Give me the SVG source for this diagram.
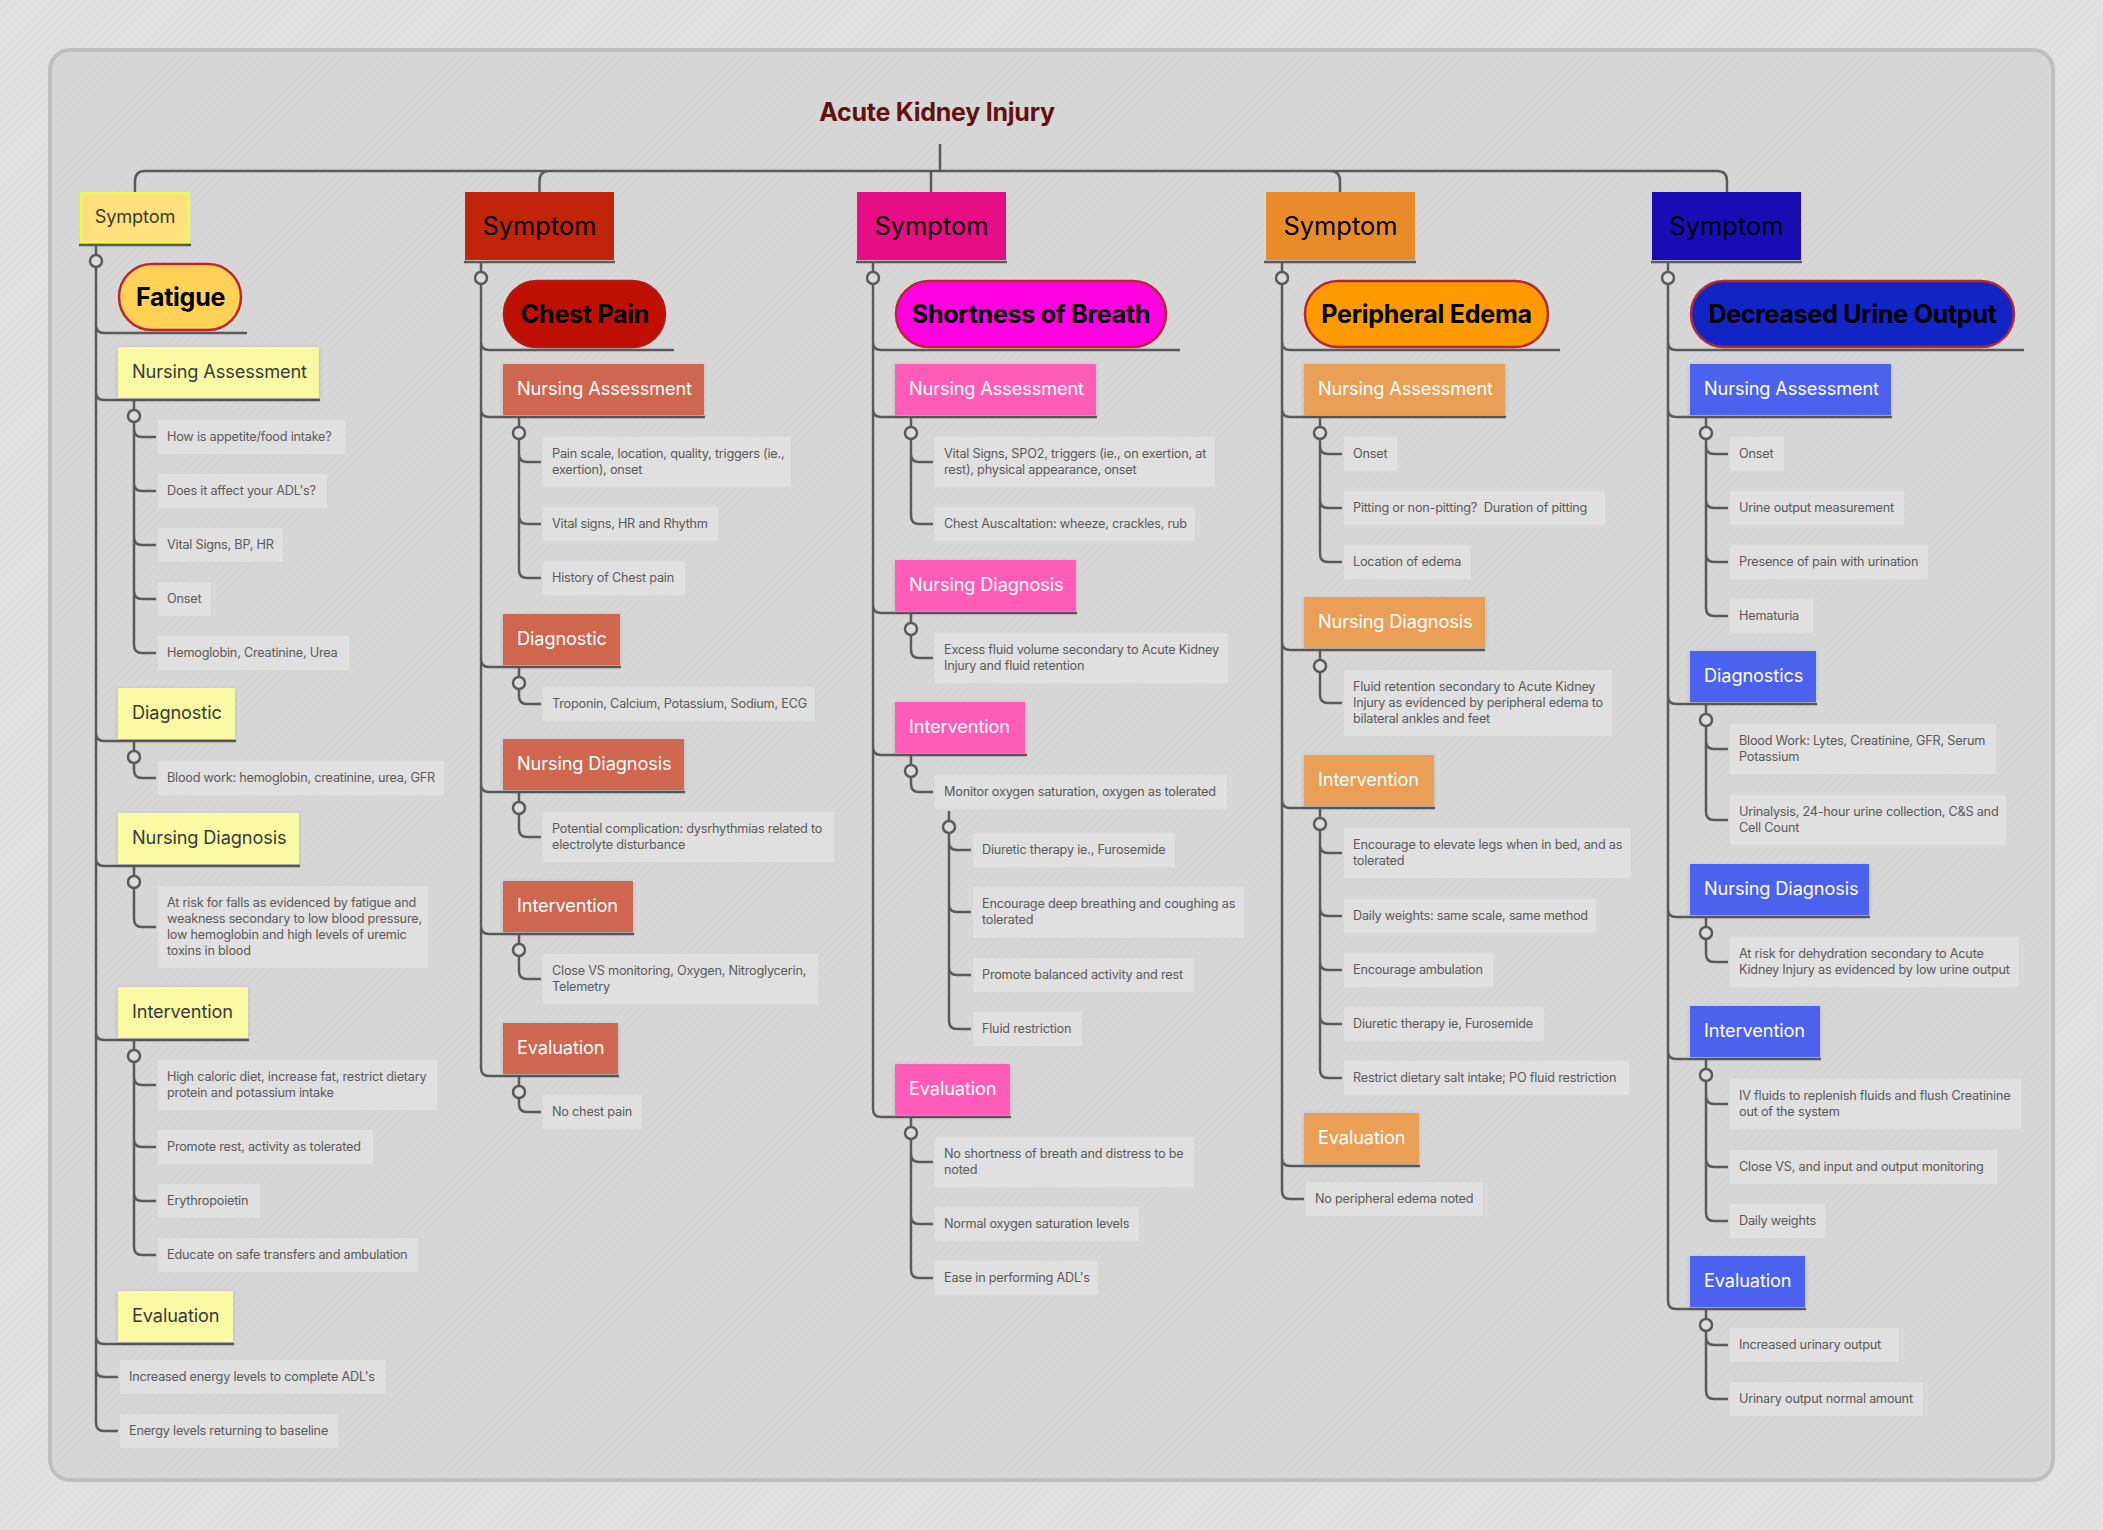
<svg xmlns="http://www.w3.org/2000/svg" width="2103" height="1530" viewBox="0 0 2103 1530">
<style>
text{font-family:Inter,"Liberation Sans",sans-serif}
.l{fill:none;stroke:#5a5a5a;stroke-width:2.5}
.c{fill:#dcdcdc;stroke:#5a5a5a;stroke-width:2.5}
.b{fill:#e0e0e0}
.t{font-size:12.7px;fill:#595959;letter-spacing:-.22px;white-space:pre}
.n{font-size:18.2px;letter-spacing:-.12px}
.y,.r,.p,.o,.u{filter:drop-shadow(0 1px 2px rgba(0,0,0,.14))}
.y{fill:#f9f9a3}.yt{fill:#3a3a3a}
.r{fill:#cf6650}.p{fill:#ff5cb8}.o{fill:#e99f56}.u{fill:#4a62ee}.w{fill:#fff}
.s{font-size:25.4px;text-anchor:middle;fill:#000}
.h{font-size:25px;font-weight:700;text-anchor:middle;fill:#000;letter-spacing:-.25px}
.pill{stroke:#b8272f;stroke-width:2.5}
</style>
<defs><pattern id="bg" width="6" height="6" patternUnits="userSpaceOnUse" patternTransform="rotate(45)"><rect width="6" height="6" fill="#e2e2e2"/><rect width="3" height="6" fill="#e0e0e0"/></pattern>
<pattern id="fg" width="6" height="6" patternUnits="userSpaceOnUse" patternTransform="rotate(45)"><rect width="6" height="6" fill="#d7d7d7"/><rect width="3" height="6" fill="#d5d5d5"/></pattern></defs>
<rect width="2103" height="1530" fill="url(#bg)"/>
<rect id="frame" x="50" y="50" width="2003" height="1430" rx="20" fill="url(#fg)" stroke="#bfbfbf" stroke-width="4"/>
<g id="connectors">
<path class="l" d="M940 144V171M135 192V181Q135 171 145 171H1717Q1727 171 1727 181V192M539.5 192V181Q539.5 171 549.5 171M931 171V192M1340 192V181Q1340 171 1330 171"/>
<!-- col1 -->
<path class="l" d="M79 245H191M96 245V1423Q96 1431 104 1431H118M96 325Q96 333 104 333H247M96 392Q96 400 104 400H320M96 733Q96 741 104 741H236M96 858Q96 866 104 866H300M96 1032Q96 1040 104 1040H249M96 1336Q96 1344 104 1344H234M96 1369Q96 1377 104 1377H118"/>
<path class="l" d="M134 400V645Q134 653 142 653H156M134 429Q134 437 142 437H156M134 483Q134 491 142 491H156M134 537Q134 545 142 545H156M134 591Q134 599 142 599H156"/>
<path class="l" d="M134 741V770Q134 778 142 778H156"/>
<path class="l" d="M134 866V919Q134 927 142 927H156"/>
<path class="l" d="M134 1040V1247Q134 1255 142 1255H156M134 1077Q134 1085 142 1085H156M134 1139Q134 1147 142 1147H156M134 1193Q134 1201 142 1201H156"/>
<!-- col2 -->
<path class="l" d="M464 262H615M481 262V1068Q481 1076 489 1076H619M481 342Q481 350 489 350H674M481 409Q481 417 489 417H705M481 659Q481 667 489 667H621M481 784Q481 792 489 792H685M481 926Q481 934 489 934H634"/>
<path class="l" d="M519 417V570Q519 578 527 578H541M519 454Q519 462 527 462H541M519 516Q519 524 527 524H541"/>
<path class="l" d="M519 667V696Q519 704 527 704H541"/>
<path class="l" d="M519 792V829Q519 837 527 837H541"/>
<path class="l" d="M519 934V971Q519 979 527 979H541"/>
<path class="l" d="M519 1076V1104Q519 1112 527 1112H541"/>
<!-- col3 -->
<path class="l" d="M856 262H1007M873 262V1109Q873 1117 881 1117H1011M873 342Q873 350 881 350H1180M873 409Q873 417 881 417H1097M873 605Q873 613 881 613H1077M873 747Q873 755 881 755H1027"/>
<path class="l" d="M911 417V516Q911 524 919 524H933M911 454Q911 462 919 462H933"/>
<path class="l" d="M911 613V650Q911 658 919 658H933"/>
<path class="l" d="M911 755V784Q911 792 919 792H933"/>
<path class="l" d="M949 811V1021Q949 1029 957 1029H971M949 842Q949 850 957 850H971M949 904Q949 912 957 912H971M949 967Q949 975 957 975H971"/>
<path class="l" d="M911 1117V1270Q911 1278 919 1278H933M911 1154Q911 1162 919 1162H933M911 1216Q911 1224 919 1224H933"/>
<!-- col4 -->
<path class="l" d="M1264 262H1416M1282 262V1191Q1282 1199 1290 1199H1304M1282 342Q1282 350 1290 350H1560M1282 409Q1282 417 1290 417H1506M1282 642Q1282 650 1290 650H1485M1282 800Q1282 808 1290 808H1435M1282 1158Q1282 1166 1290 1166H1420"/>
<path class="l" d="M1320 417V554Q1320 562 1328 562H1342M1320 446Q1320 454 1328 454H1342M1320 500Q1320 508 1328 508H1342"/>
<path class="l" d="M1320 650V695Q1320 703 1328 703H1342"/>
<path class="l" d="M1320 808V1070Q1320 1078 1328 1078H1342M1320 845Q1320 853 1328 853H1342M1320 908Q1320 916 1328 916H1342M1320 962Q1320 970 1328 970H1342M1320 1016Q1320 1024 1328 1024H1342"/>
<!-- col5 -->
<path class="l" d="M1651 262H1802M1668 262V1301Q1668 1309 1676 1309H1806M1668 342Q1668 350 1676 350H2024M1668 409Q1668 417 1676 417H1892M1668 696Q1668 704 1676 704H1817M1668 909Q1668 917 1676 917H1870M1668 1051Q1668 1059 1676 1059H1821"/>
<path class="l" d="M1706 417V608Q1706 616 1714 616H1728M1706 446Q1706 454 1714 454H1728M1706 500Q1706 508 1714 508H1728M1706 554Q1706 562 1714 562H1728"/>
<path class="l" d="M1706 704V812Q1706 820 1714 820H1728M1706 741Q1706 749 1714 749H1728"/>
<path class="l" d="M1706 917V954Q1706 962 1714 962H1728"/>
<path class="l" d="M1706 1059V1213Q1706 1221 1714 1221H1728M1706 1096Q1706 1104 1714 1104H1728M1706 1159Q1706 1167 1714 1167H1728"/>
<path class="l" d="M1706 1309V1391Q1706 1399 1714 1399H1728M1706 1337Q1706 1345 1714 1345H1728"/>
<g>
<circle class="c" cx="96" cy="261" r="6"/><circle class="c" cx="134" cy="416" r="6"/><circle class="c" cx="134" cy="757" r="6"/><circle class="c" cx="134" cy="882" r="6"/><circle class="c" cx="134" cy="1056" r="6"/>
<circle class="c" cx="481" cy="278" r="6"/><circle class="c" cx="519" cy="433" r="6"/><circle class="c" cx="519" cy="683" r="6"/><circle class="c" cx="519" cy="808" r="6"/><circle class="c" cx="519" cy="950" r="6"/><circle class="c" cx="519" cy="1092" r="6"/>
<circle class="c" cx="873" cy="278" r="6"/><circle class="c" cx="911" cy="433" r="6"/><circle class="c" cx="911" cy="629" r="6"/><circle class="c" cx="911" cy="771" r="6"/><circle class="c" cx="949" cy="827" r="6"/><circle class="c" cx="911" cy="1133" r="6"/>
<circle class="c" cx="1282" cy="278" r="6"/><circle class="c" cx="1320" cy="433" r="6"/><circle class="c" cx="1320" cy="666" r="6"/><circle class="c" cx="1320" cy="824" r="6"/>
<circle class="c" cx="1668" cy="278" r="6"/><circle class="c" cx="1706" cy="433" r="6"/><circle class="c" cx="1706" cy="720" r="6"/><circle class="c" cx="1706" cy="933" r="6"/><circle class="c" cx="1706" cy="1075" r="6"/><circle class="c" cx="1706" cy="1325" r="6"/>
</g>
</g>
<g id="root"><text x="937" y="121" class="h" style="fill:#651010">Acute Kidney Injury</text></g>
<!-- COLUMN 1 -->
<g id="c1-symptom"><rect x="81" y="193" width="108" height="49" fill="#ffe07c" stroke="#e6ff47" stroke-width="2"/><text x="135" y="223" text-anchor="middle" class="n yt">Symptom</text></g>
<g id="c1-title"><rect x="119" y="264" width="122" height="66" rx="33" class="pill" fill="#ffd257"/><text x="180.5" y="306" class="h">Fatigue</text></g>
<g id="c1-na"><rect x="118" y="347" width="201" height="51" class="y"/><text x="132" y="378" class="n yt">Nursing Assessment</text></g>
<g id="c1-na1"><rect class="b" x="158" y="420" width="187" height="34"/><text class="t" x="167" y="441">How is appetite/food intake?</text></g>
<g id="c1-na2"><rect class="b" x="158" y="474" width="169" height="34"/><text class="t" x="167" y="495">Does it affect your ADL's?</text></g>
<g id="c1-na3"><rect class="b" x="158" y="528" width="125" height="34"/><text class="t" x="167" y="549">Vital Signs, BP, HR</text></g>
<g id="c1-na4"><rect class="b" x="158" y="582" width="53" height="34"/><text class="t" x="167" y="603">Onset</text></g>
<g id="c1-na5"><rect class="b" x="158" y="636" width="191" height="34"/><text class="t" x="167" y="657">Hemoglobin, Creatinine, Urea</text></g>
<g id="c1-dx"><rect x="118" y="688" width="117" height="51" class="y"/><text x="132" y="719" class="n yt">Diagnostic</text></g>
<g id="c1-dx1"><rect class="b" x="158" y="761" width="286" height="34"/><text class="t" x="167" y="782">Blood work: hemoglobin, creatinine, urea, GFR</text></g>
<g id="c1-nd"><rect x="118" y="813" width="181" height="51" class="y"/><text x="132" y="844" class="n yt">Nursing Diagnosis</text></g>
<g id="c1-nd1"><rect class="b" x="158" y="886" width="270" height="82"/><text class="t" x="167" y="907">At risk for falls as evidenced by fatigue and<tspan x="167" dy="16">weakness secondary to low blood pressure,</tspan><tspan x="167" dy="16">low hemoglobin and high levels of uremic</tspan><tspan x="167" dy="16">toxins in blood</tspan></text></g>
<g id="c1-in"><rect x="118" y="987" width="130" height="51" class="y"/><text x="132" y="1018" class="n yt">Intervention</text></g>
<g id="c1-in1"><rect class="b" x="158" y="1060" width="279" height="50"/><text class="t" x="167" y="1081">High caloric diet, increase fat, restrict dietary<tspan x="167" dy="16">protein and potassium intake</tspan></text></g>
<g id="c1-in2"><rect class="b" x="158" y="1130" width="215" height="34"/><text class="t" x="167" y="1151">Promote rest, activity as tolerated</text></g>
<g id="c1-in3"><rect class="b" x="158" y="1184" width="102" height="34"/><text class="t" x="167" y="1205">Erythropoietin</text></g>
<g id="c1-in4"><rect class="b" x="158" y="1238" width="260" height="34"/><text class="t" x="167" y="1259">Educate on safe transfers and ambulation</text></g>
<g id="c1-ev"><rect x="118" y="1291" width="115" height="51" class="y"/><text x="132" y="1322" class="n yt">Evaluation</text></g>
<g id="c1-ev1"><rect class="b" x="120" y="1360" width="265" height="34"/><text class="t" x="129" y="1381">Increased energy levels to complete ADL's</text></g>
<g id="c1-ev2"><rect class="b" x="120" y="1414" width="218" height="34"/><text class="t" x="129" y="1435">Energy levels returning to baseline</text></g>
<!-- COLUMN 2 -->
<g id="c2-symptom"><rect x="465" y="192" width="149" height="68" fill="#c0240a"/><text x="539.5" y="235" class="s">Symptom</text></g>
<g id="c2-title"><rect x="504" y="281" width="161" height="66" rx="33" class="pill" fill="#c00f04" style="stroke:#b01a14"/><text x="585" y="323" class="h">Chest Pain</text></g>
<g id="c2-na"><rect x="503" y="364" width="201" height="51" class="r"/><text x="517" y="395" class="n w">Nursing Assessment</text></g>
<g id="c2-na1"><rect class="b" x="543" y="437" width="248" height="50"/><text class="t" x="552" y="458">Pain scale, location, quality, triggers (ie.,<tspan x="552" dy="16">exertion), onset</tspan></text></g>
<g id="c2-na2"><rect class="b" x="543" y="507" width="175" height="34"/><text class="t" x="552" y="528">Vital signs, HR and Rhythm</text></g>
<g id="c2-na3"><rect class="b" x="543" y="561" width="142" height="34"/><text class="t" x="552" y="582">History of Chest pain</text></g>
<g id="c2-dx"><rect x="503" y="614" width="117" height="51" class="r"/><text x="517" y="645" class="n w">Diagnostic</text></g>
<g id="c2-dx1"><rect class="b" x="543" y="687" width="272" height="34"/><text class="t" x="552" y="708">Troponin, Calcium, Potassium, Sodium, ECG</text></g>
<g id="c2-nd"><rect x="503" y="739" width="181" height="51" class="r"/><text x="517" y="770" class="n w">Nursing Diagnosis</text></g>
<g id="c2-nd1"><rect class="b" x="543" y="812" width="291" height="50"/><text class="t" x="552" y="833">Potential complication: dysrhythmias related to<tspan x="552" dy="16">electrolyte disturbance</tspan></text></g>
<g id="c2-in"><rect x="503" y="881" width="130" height="51" class="r"/><text x="517" y="912" class="n w">Intervention</text></g>
<g id="c2-in1"><rect class="b" x="543" y="954" width="275" height="50"/><text class="t" x="552" y="975">Close VS monitoring, Oxygen, Nitroglycerin,<tspan x="552" dy="16">Telemetry</tspan></text></g>
<g id="c2-ev"><rect x="503" y="1023" width="115" height="51" class="r"/><text x="517" y="1054" class="n w">Evaluation</text></g>
<g id="c2-ev1"><rect class="b" x="543" y="1095" width="98" height="34"/><text class="t" x="552" y="1116">No chest pain</text></g>
<!-- COLUMN 3 -->
<g id="c3-symptom"><rect x="857" y="192" width="149" height="68" fill="#e60d85"/><text x="931.5" y="235" class="s">Symptom</text></g>
<g id="c3-title"><rect x="896" y="281" width="270" height="66" rx="33" class="pill" fill="#ff00e1"/><text x="1031" y="323" class="h">Shortness of Breath</text></g>
<g id="c3-na"><rect x="895" y="364" width="201" height="51" class="p"/><text x="909" y="395" class="n w">Nursing Assessment</text></g>
<g id="c3-na1"><rect class="b" x="935" y="437" width="280" height="50"/><text class="t" x="944" y="458">Vital Signs, SPO2, triggers (ie., on exertion, at<tspan x="944" dy="16">rest), physical appearance, onset</tspan></text></g>
<g id="c3-na2"><rect class="b" x="935" y="507" width="260" height="34"/><text class="t" x="944" y="528">Chest Auscaltation: wheeze, crackles, rub</text></g>
<g id="c3-nd"><rect x="895" y="560" width="181" height="51" class="p"/><text x="909" y="591" class="n w">Nursing Diagnosis</text></g>
<g id="c3-nd1"><rect class="b" x="935" y="633" width="293" height="50"/><text class="t" x="944" y="654">Excess fluid volume secondary to Acute Kidney<tspan x="944" dy="16">Injury and fluid retention</tspan></text></g>
<g id="c3-in"><rect x="895" y="702" width="130" height="51" class="p"/><text x="909" y="733" class="n w">Intervention</text></g>
<g id="c3-in1"><rect class="b" x="935" y="775" width="292" height="34"/><text class="t" x="944" y="796">Monitor oxygen saturation, oxygen as tolerated</text></g>
<g id="c3-in1a"><rect class="b" x="973" y="833" width="202" height="34"/><text class="t" x="982" y="854">Diuretic therapy ie., Furosemide</text></g>
<g id="c3-in1b"><rect class="b" x="973" y="887" width="271" height="51"/><text class="t" x="982" y="908">Encourage deep breathing and coughing as<tspan x="982" dy="16">tolerated</tspan></text></g>
<g id="c3-in1c"><rect class="b" x="973" y="958" width="221" height="34"/><text class="t" x="982" y="979">Promote balanced activity and rest</text></g>
<g id="c3-in1d"><rect class="b" x="973" y="1012" width="109" height="34"/><text class="t" x="982" y="1033">Fluid restriction</text></g>
<g id="c3-ev"><rect x="895" y="1064" width="115" height="51" class="p"/><text x="909" y="1095" class="n w">Evaluation</text></g>
<g id="c3-ev1"><rect class="b" x="935" y="1137" width="259" height="50"/><text class="t" x="944" y="1158">No shortness of breath and distress to be<tspan x="944" dy="16">noted</tspan></text></g>
<g id="c3-ev2"><rect class="b" x="935" y="1207" width="204" height="34"/><text class="t" x="944" y="1228">Normal oxygen saturation levels</text></g>
<g id="c3-ev3"><rect class="b" x="935" y="1261" width="163" height="34"/><text class="t" x="944" y="1282">Ease in performing ADL's</text></g>
<!-- COLUMN 4 -->
<g id="c4-symptom"><rect x="1266" y="192" width="149" height="68" fill="#e98b2a"/><text x="1340.5" y="235" class="s">Symptom</text></g>
<g id="c4-title"><rect x="1305" y="281" width="243" height="66" rx="33" class="pill" fill="#ff9a00"/><text x="1426.5" y="323" class="h">Peripheral Edema</text></g>
<g id="c4-na"><rect x="1304" y="364" width="201" height="51" class="o"/><text x="1318" y="395" class="n w">Nursing Assessment</text></g>
<g id="c4-na1"><rect class="b" x="1344" y="437" width="53" height="34"/><text class="t" x="1353" y="458">Onset</text></g>
<g id="c4-na2"><rect class="b" x="1344" y="491" width="261" height="34"/><text class="t" x="1353" y="512">Pitting or non-pitting?  Duration of pitting</text></g>
<g id="c4-na3"><rect class="b" x="1344" y="545" width="127" height="34"/><text class="t" x="1353" y="566">Location of edema</text></g>
<g id="c4-nd"><rect x="1304" y="597" width="181" height="51" class="o"/><text x="1318" y="628" class="n w">Nursing Diagnosis</text></g>
<g id="c4-nd1"><rect class="b" x="1344" y="670" width="268" height="66"/><text class="t" x="1353" y="691">Fluid retention secondary to Acute Kidney<tspan x="1353" dy="16">Injury as evidenced by peripheral edema to</tspan><tspan x="1353" dy="16">bilateral ankles and feet</tspan></text></g>
<g id="c4-in"><rect x="1304" y="755" width="130" height="51" class="o"/><text x="1318" y="786" class="n w">Intervention</text></g>
<g id="c4-in1"><rect class="b" x="1344" y="828" width="287" height="50"/><text class="t" x="1353" y="849">Encourage to elevate legs when in bed, and as<tspan x="1353" dy="16">tolerated</tspan></text></g>
<g id="c4-in2"><rect class="b" x="1344" y="899" width="252" height="34"/><text class="t" x="1353" y="920">Daily weights: same scale, same method</text></g>
<g id="c4-in3"><rect class="b" x="1344" y="953" width="149" height="34"/><text class="t" x="1353" y="974">Encourage ambulation</text></g>
<g id="c4-in4"><rect class="b" x="1344" y="1007" width="200" height="34"/><text class="t" x="1353" y="1028">Diuretic therapy ie, Furosemide</text></g>
<g id="c4-in5"><rect class="b" x="1344" y="1061" width="285" height="34"/><text class="t" x="1353" y="1082">Restrict dietary salt intake; PO fluid restriction</text></g>
<g id="c4-ev"><rect x="1304" y="1113" width="115" height="51" class="o"/><text x="1318" y="1144" class="n w">Evaluation</text></g>
<g id="c4-ev1"><rect class="b" x="1306" y="1182" width="177" height="34"/><text class="t" x="1315" y="1203">No peripheral edema noted</text></g>
<!-- COLUMN 5 -->
<g id="c5-symptom"><rect x="1652" y="192" width="149" height="68" fill="#1a0bb5"/><text x="1726.5" y="235" class="s">Symptom</text></g>
<g id="c5-title"><rect x="1691" y="281" width="323" height="66" rx="33" class="pill" fill="#1224c4"/><text x="1852.5" y="323" class="h">Decreased Urine Output</text></g>
<g id="c5-na"><rect x="1690" y="364" width="201" height="51" class="u"/><text x="1704" y="395" class="n w">Nursing Assessment</text></g>
<g id="c5-na1"><rect class="b" x="1730" y="437" width="54" height="34"/><text class="t" x="1739" y="458">Onset</text></g>
<g id="c5-na2"><rect class="b" x="1730" y="491" width="174" height="34"/><text class="t" x="1739" y="512">Urine output measurement</text></g>
<g id="c5-na3"><rect class="b" x="1730" y="545" width="198" height="34"/><text class="t" x="1739" y="566">Presence of pain with urination</text></g>
<g id="c5-na4"><rect class="b" x="1730" y="599" width="83" height="34"/><text class="t" x="1739" y="620">Hematuria</text></g>
<g id="c5-dx"><rect x="1690" y="651" width="126" height="51" class="u"/><text x="1704" y="682" class="n w">Diagnostics</text></g>
<g id="c5-dx1"><rect class="b" x="1730" y="724" width="266" height="50"/><text class="t" x="1739" y="745">Blood Work: Lytes, Creatinine, GFR, Serum<tspan x="1739" dy="16">Potassium</tspan></text></g>
<g id="c5-dx2"><rect class="b" x="1730" y="795" width="276" height="50"/><text class="t" x="1739" y="816">Urinalysis, 24-hour urine collection, C&amp;S and<tspan x="1739" dy="16">Cell Count</tspan></text></g>
<g id="c5-nd"><rect x="1690" y="864" width="179" height="51" class="u"/><text x="1704" y="895" class="n w">Nursing Diagnosis</text></g>
<g id="c5-nd1"><rect class="b" x="1730" y="937" width="289" height="50"/><text class="t" x="1739" y="958">At risk for dehydration secondary to Acute<tspan x="1739" dy="16">Kidney Injury as evidenced by low urine output</tspan></text></g>
<g id="c5-in"><rect x="1690" y="1006" width="130" height="51" class="u"/><text x="1704" y="1037" class="n w">Intervention</text></g>
<g id="c5-in1"><rect class="b" x="1730" y="1079" width="291" height="50"/><text class="t" x="1739" y="1100">IV fluids to replenish fluids and flush Creatinine<tspan x="1739" dy="16">out of the system</tspan></text></g>
<g id="c5-in2"><rect class="b" x="1730" y="1150" width="267" height="34"/><text class="t" x="1739" y="1171">Close VS, and input and output monitoring</text></g>
<g id="c5-in3"><rect class="b" x="1730" y="1204" width="95" height="34"/><text class="t" x="1739" y="1225">Daily weights</text></g>
<g id="c5-ev"><rect x="1690" y="1256" width="115" height="51" class="u"/><text x="1704" y="1287" class="n w">Evaluation</text></g>
<g id="c5-ev1"><rect class="b" x="1730" y="1328" width="169" height="34"/><text class="t" x="1739" y="1349">Increased urinary output</text></g>
<g id="c5-ev2"><rect class="b" x="1730" y="1382" width="193" height="34"/><text class="t" x="1739" y="1403">Urinary output normal amount</text></g>
</svg>
